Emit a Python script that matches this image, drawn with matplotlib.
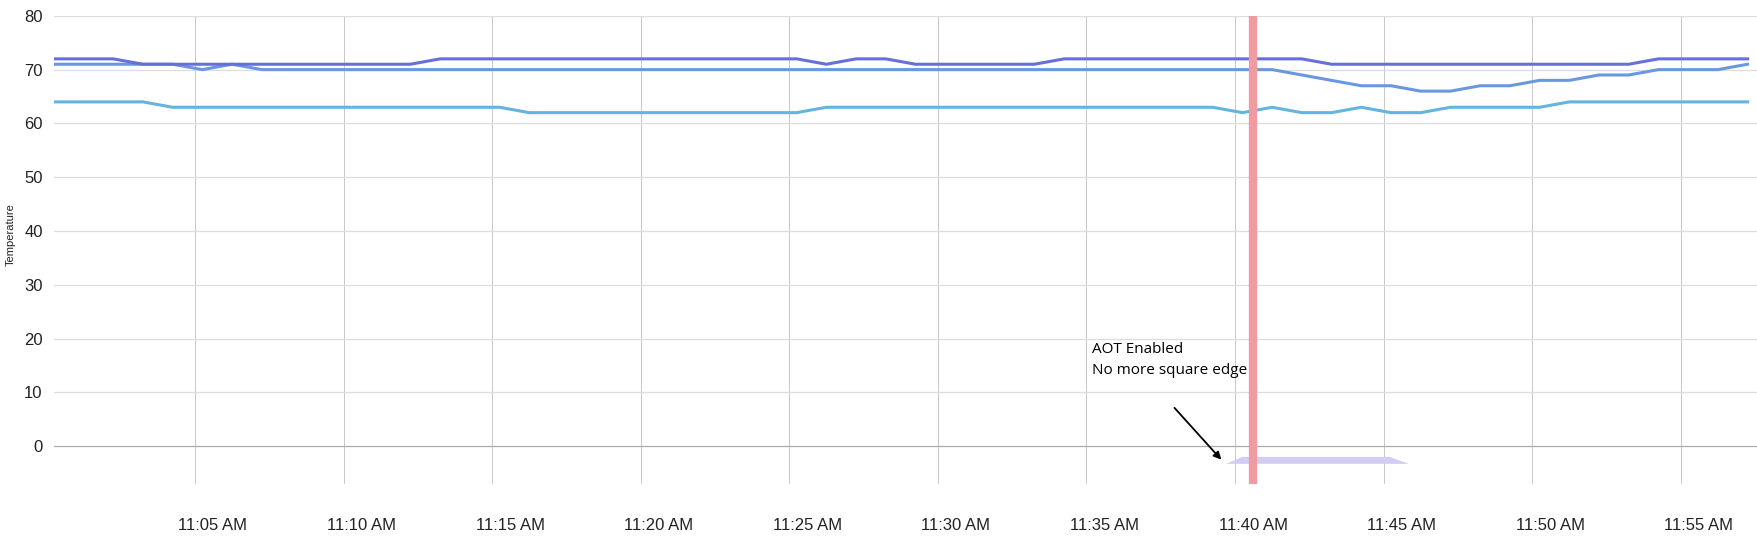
import matplotlib
matplotlib.use("Agg")
import matplotlib.pyplot as plt
import matplotlib.transforms as mtransforms
from matplotlib.patches import Polygon

minutes = [0.25 + i for i in range(58)]
series_a = [72]*3 + [71]*10 + [72]*13 + [71] + [72]*2 + [71]*5 + [72]*9 + [71]*11 + [72]*4
series_b = [71]*5 + [70, 71] + [70]*35 + [69, 68, 67, 67, 66, 66, 67, 67, 68, 68, 69, 69, 70, 70, 70, 71]
series_c = [64]*4 + [63]*12 + [62]*10 + [63]*14 + [62, 63, 62, 62, 63, 62, 62] + [63]*4 + [64]*7
tick_minutes = [5, 10, 15, 20, 25, 30, 35, 40, 45, 50, 55]
tick_labels = ["11:%02d AM" % m for m in tick_minutes]
y_ticks = [0, 10, 20, 30, 40, 50, 60, 70, 80]
event_minute = 40.6
band_x = [39.7, 40.25, 45.2, 45.85]
band_y = [-3.3, -2.0]

plt.rcParams['font.family'] = ['Liberation Sans', 'DejaVu Sans']
fig = plt.figure(figsize=(17.58, 5.46), dpi=100)
ax = fig.add_axes([0.0306, 0.113, 0.9694, 0.858])
ax.set_xlim(0.25, 57.6)
ax.set_ylim(-7.1, 80)

for t in tick_minutes:
    ax.axvline(t, color="#c8c8c8", lw=0.7, zorder=0)
for y in y_ticks:
    ax.axhline(y, color="#aaaaaa" if y == 0 else "#dddddd", lw=0.9, zorder=0)

ax.plot(minutes, series_c, color="#63b5e0", lw=2.2)
ax.plot(minutes, series_b, color="#6a98e0", lw=2.2)
ax.plot(minutes, series_a, color="#6670d8", lw=2.2)

poly = Polygon([(band_x[0], band_y[0]), (band_x[1], band_y[1]), (band_x[2], band_y[1]), (band_x[3], band_y[0])],
               closed=True, facecolor="#d4cdf3", edgecolor="none", zorder=2)
ax.add_patch(poly)
ax.axvline(event_minute, color="#f09aa2", lw=6, zorder=3)

ax.annotate("", xy=(39.6, -2.9), xytext=(37.9, 7.5),
            arrowprops=dict(arrowstyle="-|>", color="black", lw=1.3, mutation_scale=11), zorder=5)
ax.text(35.2, 16, "AOT Enabled\nNo more square edge", fontsize=11, family="Open Sans",
        va="center", ha="left", linespacing=1.55)

for s in ax.spines.values():
    s.set_visible(False)
ax.set_yticks(y_ticks)
ax.set_yticklabels([str(v) for v in y_ticks], fontsize=12, color="#222222")
ax.set_xticks(tick_minutes)
ax.set_xticklabels(tick_labels, fontsize=12, color="#222222")
ax.tick_params(length=0)
ax.tick_params(axis="x", pad=24)
ax.tick_params(axis="y", pad=8)
offset = mtransforms.ScaledTranslation(0.18, 0, fig.dpi_scale_trans)
for lbl in ax.get_xticklabels():
    lbl.set_transform(lbl.get_transform() + offset)
fig.text(0.003, 0.57, "Temperature", rotation=90, fontsize=8, va="center", ha="left", color="#222222")

fig.savefig("out.png", dpi=100, facecolor="white")
